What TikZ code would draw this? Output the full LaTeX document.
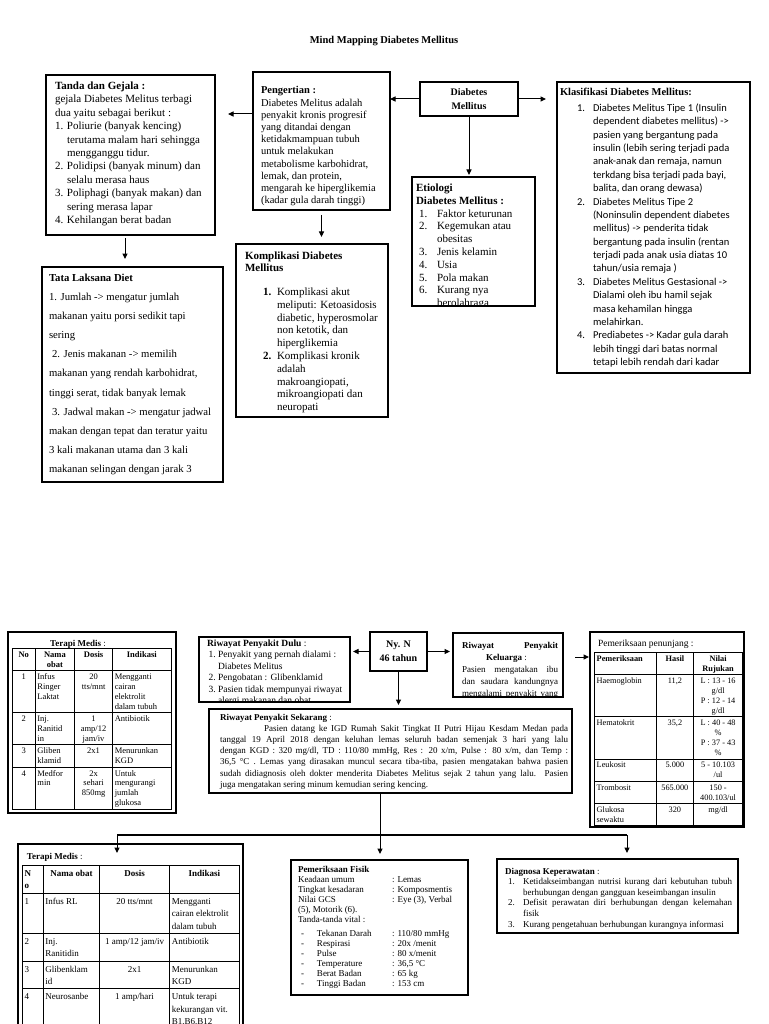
\documentclass[tikz,border=0pt]{standalone}
\usepackage{fontspec}
\setmainfont{Liberation Serif}
\newfontfamily\calfont{Carlito}
\usepackage{array}
\usetikzlibrary{arrows.meta}
\newcommand{\hd}[1]{\multicolumn{2}{@{}l@{}}{#1}}
\newcommand{\dsh}[1]{\hspace*{3pt}\makebox[16pt][l]{-}#1}
\newcolumntype{C}[1]{>{\centering\arraybackslash}p{#1}}
\newcolumntype{L}[1]{>{\raggedright\arraybackslash}p{#1}}
\newcommand{\mkbox}[5]{%
  \pgfmathsetmacro\mybw{#4-#2}\pgfmathsetmacro\mybh{#5-#3}%
  \node[box, minimum width=\mybw pt, minimum height=\mybh pt] (#1) at (#2,#3) {};}
\begin{document}
\begin{tikzpicture}[x=1pt,y=-1pt,
  box/.style={draw, line width=1.6pt, inner sep=0pt, outer sep=0pt, anchor=north west},
  txt/.style={inner sep=0pt, outer sep=0pt, anchor=base west},
  tab/.style={inner sep=0pt, outer sep=0pt, anchor=north west},
  arr/.style={-{Triangle[length=5.5pt,width=5pt]}, line width=1pt},
  ln/.style={line width=1.2pt}]
\fill[white] (0,0) rectangle (768,1024);
\useasboundingbox (0,0) rectangle (768,1024);

% ---------- title
\node[inner sep=0pt, anchor=base] (title) at (384,43.5) {\fontsize{10.5}{12}\selectfont\bfseries Mind Mapping Diabetes Mellitus};

% ---------- top boxes
\mkbox{tanda}{46}{75}{215}{235}
\mkbox{peng}{253}{72}{390}{210}
\mkbox{dm}{420}{82}{518}{116}
\mkbox{klas}{557}{82}{750}{373}
\mkbox{etio}{412}{177}{535}{306}
\mkbox{kompl}{236}{244}{388}{417}
\mkbox{tata}{42}{267}{223}{482}

% Tanda dan Gejala
\node[txt] (tandaT) at (55,89.5) {\fontsize{11}{13.4}\selectfont
\begin{tabular}[t]{@{}p{12pt}@{}l@{}}
\hd{\textbf{Tanda dan Gejala :}}\\
\hd{gejala Diabetes Melitus terbagi}\\
\hd{dua yaitu sebagai berikut :}\\
1. & Poliurie (banyak kencing)\\
   & terutama malam hari sehingga\\
   & mengganggu tidur.\\
2. & Polidipsi (banyak minum) dan\\
   & selalu merasa haus\\
3. & Poliphagi (banyak makan) dan\\
   & sering merasa lapar\\
4. & Kehilangan berat badan
\end{tabular}};

% Pengertian
\node[txt] (pengT) at (261,94) {\fontsize{10.5}{12.2}\selectfont
\begin{tabular}[t]{@{}l@{}}
\textbf{Pengertian :}\\
Diabetes Melitus adalah\\
penyakit kronis progresif\\
yang ditandai dengan\\
ketidakmampuan tubuh\\
untuk melakukan\\
metabolisme karbohidrat,\\
lemak, dan protein,\\
mengarah ke hiperglikemia\\
(kadar gula darah tinggi)
\end{tabular}};

% Diabetes Mellitus
\node[inner sep=0pt, align=center, font=\fontsize{10}{13.5}\selectfont\bfseries] (dmT) at (dm.center) {Diabetes\\Mellitus};

% Klasifikasi
\node[txt] (klasH) at (560,95.5) {\fontsize{10.5}{12}\selectfont\bfseries Klasifikasi Diabetes Mellitus:};
\node[txt] (klasT) at (577,111.5) {\calfont\fontsize{10.5}{13.37}\selectfont
\begin{tabular}[t]{@{}p{16pt}@{}l@{}}
1. & Diabetes Melitus Tipe 1 (Insulin\\
   & dependent diabetes mellitus) ->\\
   & pasien yang bergantung pada\\
   & insulin (lebih sering terjadi pada\\
   & anak-anak dan remaja, namun\\
   & terkdang bisa terjadi pada bayi,\\
   & balita, dan orang dewasa)\\
2. & Diabetes Melitus Tipe 2\\
   & (Noninsulin dependent diabetes\\
   & mellitus) -> penderita tidak\\
   & bergantung pada insulin (rentan\\
   & terjadi pada anak usia diatas 10\\
   & tahun/usia remaja )\\
3. & Diabetes Melitus Gestasional ->\\
   & Dialami oleh ibu hamil sejak\\
   & masa kehamilan hingga\\
   & melahirkan.\\
4. & Prediabetes -> Kadar gula darah\\
   & lebih tinggi dari batas normal\\
   & tetapi lebih rendah dari kadar
\end{tabular}};

% Etiologi (clipped)
\begin{scope}
\clip ([xshift=0.8pt,yshift=-0.8pt]etio.north west) rectangle ([xshift=-0.8pt,yshift=0.8pt]etio.south east);
\node[txt] (etioT) at (416,191.5) {\fontsize{11}{12.8}\selectfont
\begin{tabular}[t]{@{}p{21pt}@{}l@{}}
\hd{\textbf{Etiologi}}\\
\hd{\textbf{Diabetes Mellitus :}}\\
\hspace*{3pt}1. & Faktor keturunan\\
\hspace*{3pt}2. & Kegemukan atau\\
   & obesitas\\
\hspace*{3pt}3. & Jenis kelamin\\
\hspace*{3pt}4. & Usia\\
\hspace*{3pt}5. & Pola makan\\
\hspace*{3pt}6. & Kurang nya\\
   & berolahraga
\end{tabular}};
\end{scope}

% Komplikasi
\node[txt] (komplH) at (245,259.5) {\fontsize{11}{12.2}\selectfont
\begin{tabular}[t]{@{}l@{}}
\textbf{Komplikasi Diabetes}\\
\textbf{Mellitus}
\end{tabular}};
\node[txt] (komplT) at (263,295.5) {\fontsize{11}{12.8}\selectfont
\begin{tabular}[t]{@{}p{14pt}@{}l@{}}
\textbf{1.} & Komplikasi akut\\
   & meliputi: Ketoasidosis\\
   & diabetic, hyperosmolar\\
   & non ketotik, dan\\
   & hiperglikemia\\
\textbf{2.} & Komplikasi kronik\\
   & adalah\\
   & makroangiopati,\\
   & mikroangiopati dan\\
   & neuropati
\end{tabular}};

% Tata Laksana Diet
\node[txt] (tataT) at (49,281.4) {\fontsize{10.7}{19.1}\selectfont
\begin{tabular}[t]{@{}l@{}}
\textbf{Tata Laksana Diet}\\
1. Jumlah -> mengatur jumlah\\
makanan yaitu porsi sedikit tapi\\
sering\\
\hspace*{3pt}2. Jenis makanan -> memilih\\
makanan yang rendah karbohidrat,\\
tinggi serat, tidak banyak lemak\\
\hspace*{3pt}3. Jadwal makan -> mengatur jadwal\\
makan dengan tepat dan teratur yaitu\\
3 kali makanan utama dan 3 kali\\
makanan selingan dengan jarak 3
\end{tabular}};

% ---------- top connectors
\draw[arr, shorten >=13pt] (peng.west |- 0,114) -- (tanda.east |- 0,114);
\draw[arr] (dm.west) -- (peng.east |- dm.west);
\draw[arr, shorten >=11pt] (dm.east) -- (klas.west |- dm.east);
\draw[arr, shorten >=2pt] (dm.south) -- (dm.south |- etio.north);
\draw[arr, shorten <=5pt, shorten >=7pt] (peng.south) -- (peng.south |- kompl.north);
\draw[arr, shorten <=3pt, shorten >=8pt] (125,0 |- tanda.south) -- (125,0 |- tata.north);

% ---------- bottom boxes
\mkbox{t1}{8}{632}{176}{813}
\mkbox{rpd}{199}{637}{350}{702}
\mkbox{nyn}{370}{632}{427}{671}
\mkbox{rk}{453}{633}{563}{697}
\mkbox{pp}{590}{632}{744}{827}
\mkbox{rps}{209}{709}{572}{793}
\mkbox{t2}{18}{844}{243}{1040}
\mkbox{pf}{291}{860}{468}{995}
\mkbox{diag}{497}{859}{738}{933}

% Terapi Medis 1
\node[txt, anchor=base] (t1H) at (78,646) {\fontsize{9}{10}\selectfont\textbf{Terapi Medis} :};
\node[tab] (t1T) at (12,648) {\fontsize{8.5}{9.8}\selectfont\setlength{\tabcolsep}{2pt}\setlength{\arrayrulewidth}{0.7pt}\setlength{\extrarowheight}{2pt}%
\begin{tabular}{|C{18pt}|L{35pt}|C{33pt}|L{54pt}|}\hline
\textbf{No} & \centering\textbf{Nama}\par\textbf{obat} & \textbf{Dosis} & \centering\textbf{Indikasi}\tabularnewline\hline
1 & Infus\par Ringer\par Laktat & 20\par tts/mnt & Mengganti\par cairan\par elektrolit\par dalam tubuh\tabularnewline\hline
2 & Inj.\par Ranitid\par in & 1\par amp/12\par jam/iv & Antibiotik\tabularnewline\hline
3 & Gliben\par klamid & 2x1 & Menurunkan\par KGD\tabularnewline\hline
4 & Medfor\par min & 2x\par sehari\par 850mg & Untuk\par mengurangi\par jumlah\par glukosa\tabularnewline\hline
\end{tabular}};

% Riwayat Penyakit Dulu (clipped)
\begin{scope}
\clip ([xshift=0.8pt,yshift=-0.8pt]rpd.north west) rectangle ([xshift=-0.8pt,yshift=0.8pt]rpd.south east);
\node[txt] (rpdT) at (207,646) {\fontsize{9.5}{11.5}\selectfont
\begin{tabular}[t]{@{}p{11pt}@{}l@{}}
\hd{\textbf{Riwayat Penyakit Dulu} :}\\
\hspace*{1.5pt}1. & Penyakit yang pernah dialami :\\
   & Diabetes Melitus\\
\hspace*{1.5pt}2. & Pengobatan : Glibenklamid\\
\hspace*{1.5pt}3. & Pasien tidak mempunyai riwayat\\
   & alergi makanan dan obat
\end{tabular}};
\end{scope}

% Ny. N
\node[inner sep=0pt, align=center, font=\fontsize{10}{14}\selectfont\bfseries] (nynT) at (nyn.center) {Ny. N\\46 tahun};

% Riwayat Penyakit Keluarga (clipped)
\begin{scope}
\clip ([xshift=0.8pt,yshift=-0.8pt]rk.north west) rectangle ([xshift=-0.8pt,yshift=0.8pt]rk.south east);
\node[txt] (rkT) at (462,648) {\parbox[t]{96pt}{\fontsize{9}{12.2}\selectfont
\textbf{Riwayat}\hfill\textbf{Penyakit}\\
\hspace*{24pt}\textbf{Keluarga} :\\
Pasien\hfill mengatakan\hfill ibu\\
dan\hfill saudara\hfill kandungnya\\
mengalami\hfill penyakit\hfill yang}};
\end{scope}

% Pemeriksaan penunjang
\node[txt] (ppH) at (598,646) {\fontsize{9.5}{11}\selectfont Pemeriksaan penunjang :};
\node[tab] (ppT) at (594,652) {\fontsize{8.3}{10}\selectfont\setlength{\tabcolsep}{2pt}\setlength{\arrayrulewidth}{0.7pt}\setlength{\extrarowheight}{1.5pt}%
\begin{tabular}{|L{57pt}|C{33pt}|C{44pt}|}\hline
\textbf{Pemeriksaan} & \textbf{Hasil} & \textbf{Nilai}\par\textbf{Rujukan}\tabularnewline\hline
Haemoglobin & 11,2 & L : 13 - 16\par g/dl\par P : 12 - 14\par g/dl\tabularnewline\hline
Hematokrit & 35,2 & L : 40 - 48\par \%\par P : 37 - 43\par \%\tabularnewline\hline
Leukosit & 5.000 & 5 - 10.103\par /ul\tabularnewline\hline
Trombosit & 565.000 & 150 -\par 400.103/ul\tabularnewline\hline
Glukosa\par sewaktu & 320 & mg/dl\tabularnewline\hline
\end{tabular}};

% Riwayat Penyakit Sekarang
\node[txt] (rpsT) at (220,720) {\parbox[t]{348pt}{\fontsize{9}{11.2}\selectfont\tolerance=10000
\textbf{Riwayat Penyakit Sekarang} :\par
\hspace*{44pt}Pasien datang ke IGD Rumah Sakit Tingkat II Putri Hijau Kesdam Medan pada\linebreak
tanggal 19 April 2018 dengan keluhan lemas seluruh badan semenjak 3 hari yang lalu\linebreak
dengan KGD : 320 mg/dl, TD : 110/80 mmHg, Res : 20 x/m, Pulse : 80 x/m, dan Temp :\linebreak
36,5 °C . Lemas yang dirasakan muncul secara tiba-tiba, pasien mengatakan bahwa pasien\linebreak
sudah didiagnosis oleh dokter menderita Diabetes Melitus sejak 2 tahun yang lalu. Pasien\linebreak
juga mengatakan sering minum kemudian sering kencing.}};

% Terapi Medis 2
\node[txt] (t2H) at (27,859) {\fontsize{9}{10}\selectfont\textbf{Terapi Medis} :};
\node[tab] (t2T) at (22,865) {\fontsize{9}{12.5}\selectfont\setlength{\tabcolsep}{2pt}\setlength{\arrayrulewidth}{0.7pt}\setlength{\extrarowheight}{2pt}%
\begin{tabular}{|L{16pt}|L{52pt}|C{65pt}|L{65pt}|}\hline
\textbf{N}\par\textbf{o} & \centering\textbf{Nama obat} & \textbf{Dosis} & \centering\textbf{Indikasi}\tabularnewline\hline
1 & Infus RL & 20 tts/mnt & Mengganti\par cairan elektrolit\par dalam tubuh\tabularnewline\hline
2 & Inj.\par Ranitidin & 1 amp/12 jam/iv & Antibiotik\tabularnewline\hline
3 & Glibenklam\par id & 2x1 & Menurunkan\par KGD\tabularnewline\hline
4 & Neurosanbe & 1 amp/hari & Untuk terapi\par kekurangan vit.\par B1,B6,B12\tabularnewline\hline
\end{tabular}};

% Pemeriksaan Fisik
\node[txt] (pfT) at (298,872) {\fontsize{9}{10}\selectfont
\begin{tabular}[t]{@{}p{94pt}@{}l@{}}
\hd{\textbf{Pemeriksaan Fisik}}\\
Keadaan umum & : Lemas\\
Tingkat kesadaran & : Komposmentis\\
Nilai GCS & : Eye (3), Verbal\\
\hd{(5), Motorik (6).}\\
\hd{Tanda-tanda vital :}\\[4pt]
\dsh{Tekanan Darah} & : 110/80 mmHg\\
\dsh{Respirasi} & : 20x /menit\\
\dsh{Pulse} & : 80 x/menit\\
\dsh{Temperature} & : 36,5 °C\\
\dsh{Berat Badan} & : 65 kg\\
\dsh{Tinggi Badan} & : 153 cm
\end{tabular}};

% Diagnosa Keperawatan
\node[txt] (diagT) at (505,874) {\fontsize{9}{10.6}\selectfont
\begin{tabular}[t]{@{}p{18pt}@{}l@{}}
\hd{\textbf{Diagnosa Keperawatan} :}\\
\hspace*{3pt}1. & \makebox[209pt][s]{Ketidakseimbangan nutrisi kurang dari kebutuhan tubuh}\\
   & berhubungan dengan gangguan keseimbangan insulin\\
\hspace*{3pt}2. & \makebox[209pt][s]{Defisit perawatan diri berhubungan dengan kelemahan}\\
   & fisik\\
\hspace*{3pt}3. & Kurang pengetahuan berhubungan kurangnya informasi
\end{tabular}};

% ---------- bottom connectors
\draw[arr, shorten >=3pt] (nyn.west) -- (rpd.east |- nyn.west);
\draw[arr, shorten >=3pt] (nyn.east) -- (rk.west |- nyn.east);
\draw[arr, shorten <=12pt, shorten >=1pt] (rk.east |- 0,657) -- (pp.west |- 0,657);
\draw[arr, shorten >=4pt] (nyn.south) -- (nyn.south |- rps.north);
\coordinate (jl) at (117,835);
\coordinate (jr) at (627,835);
\draw[ln] (jl) -- (jr);
\draw[arr, shorten >=6pt] (380,0 |- rps.south) -- (380,0 |- pf.north);
\draw[arr, shorten >=-9pt] (jl) -- (jl |- t2.north);
\draw[arr, shorten >=6pt] (jr) -- (jr |- diag.north);
\end{tikzpicture}
\end{document}
